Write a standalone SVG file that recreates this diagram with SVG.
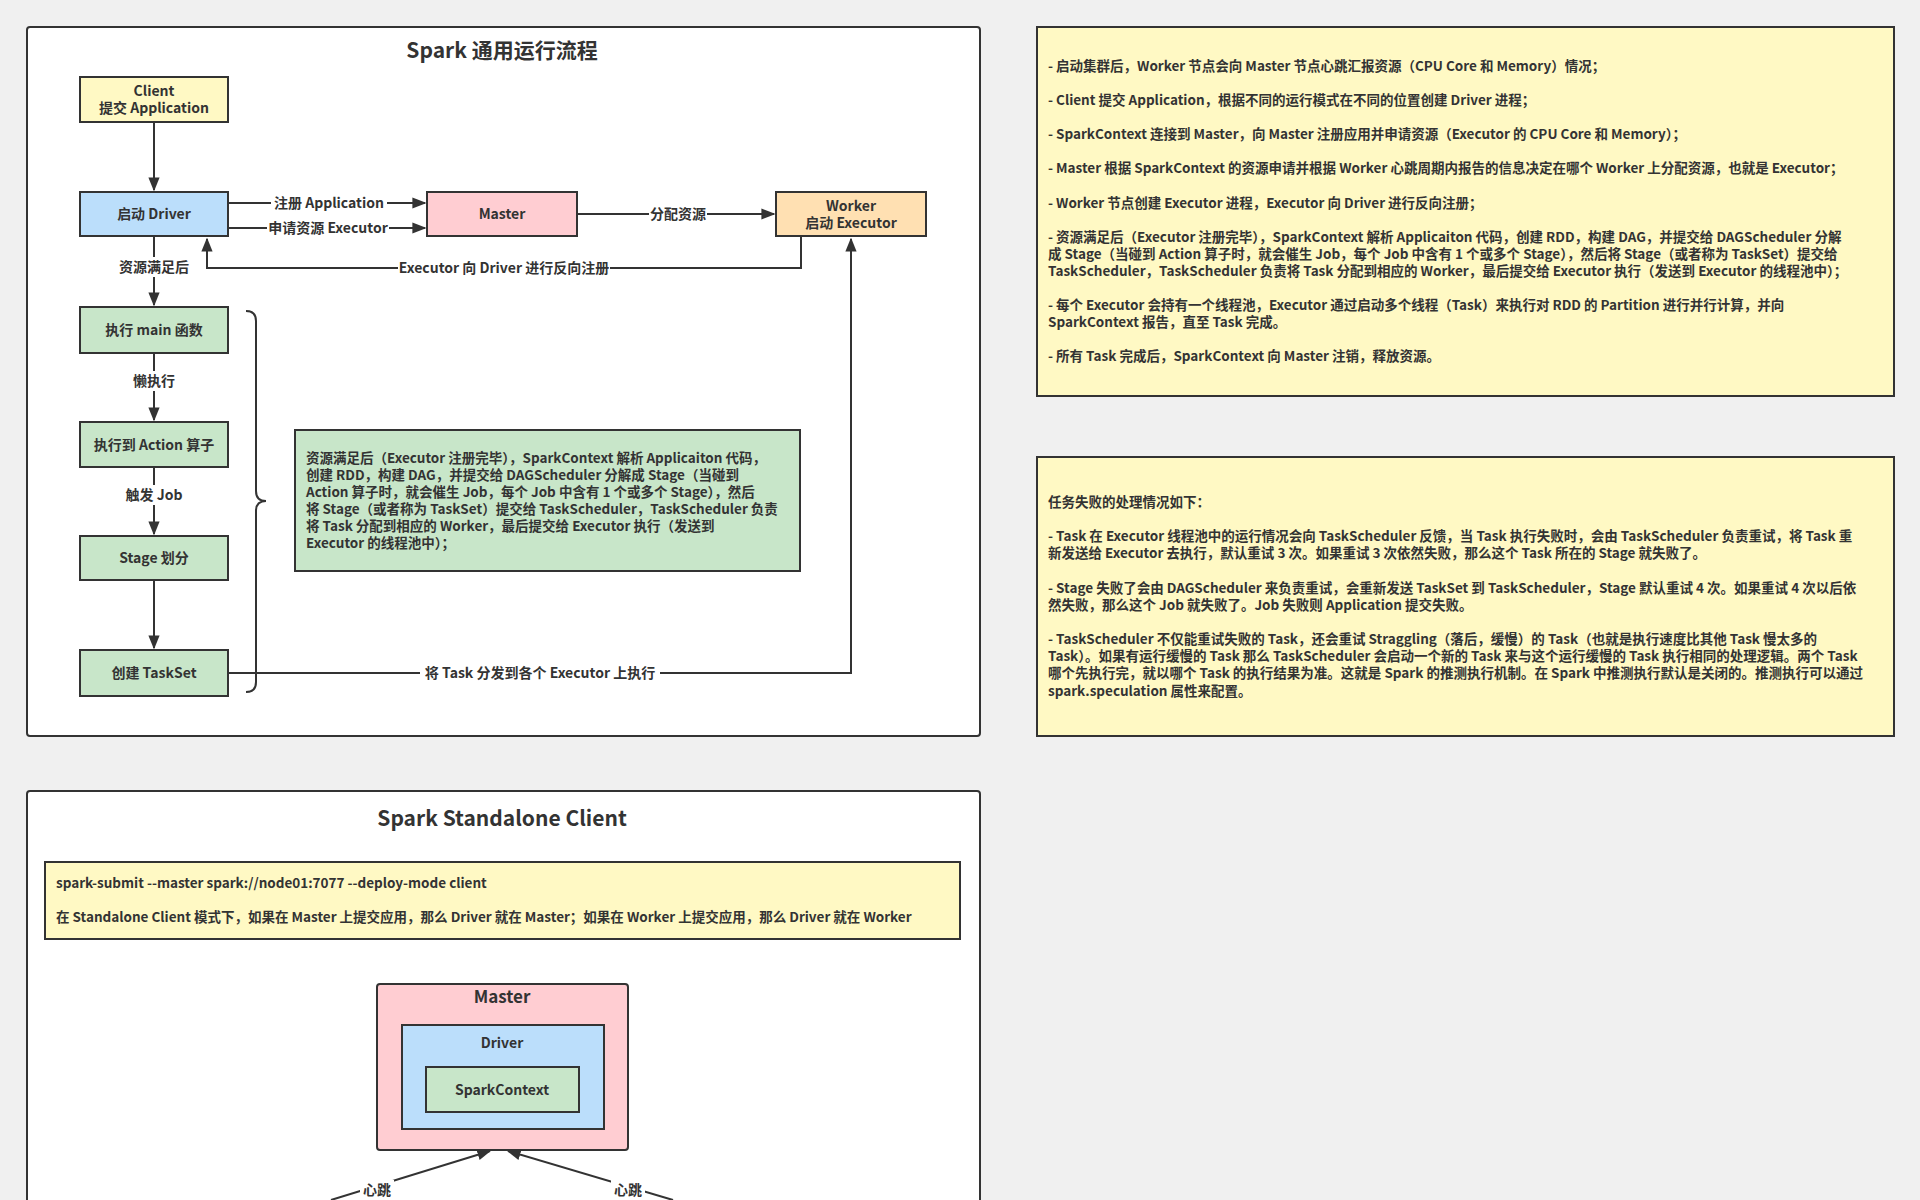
<svg xmlns="http://www.w3.org/2000/svg" width="1920" height="1200" viewBox="0 0 1920 1200">
<defs>
<style>
text{font-family:"Noto Sans CJK SC","Noto Sans",sans-serif;font-weight:bold;fill:#333;font-size:14px}
.c{text-anchor:middle}
.t{font-size:21px}
.n{stroke:#333;stroke-width:2}
.y{fill:#fff9c4}.b{fill:#bbdefb}.p{fill:#ffcdd2}.o{fill:#ffe0b2}.g{fill:#c8e6c9}
.l{fill:none;stroke:#333;stroke-width:2}
.lb{font-size:14px}
.bg{fill:#f0f0f0}
.s{font-size:13.5px}
</style>
<marker id="a" viewBox="0 0 10 10" refX="9" refY="5" markerWidth="7" markerHeight="7" orient="auto"><path d="M0,1 L10,5 L0,9 z" fill="#333"/></marker>
</defs>
<rect width="1920" height="1200" fill="#f0f0f0"/>
<g id="panel1"><rect x="27" y="27" width="953" height="709" rx="3" fill="#fff" class="n"/><text class="c t" x="502" y="58">Spark 通用运行流程</text></g>
<g id="panel2"><rect x="27" y="791" width="953" height="430" rx="3" fill="#fff" class="n"/><text class="c t" x="502" y="826">Spark Standalone Client</text></g>
<g id="connectors">
<path class="l" d="M154,122 V190" marker-end="url(#a)"/>
<path class="l" d="M228,203 H425" marker-end="url(#a)"/>
<path class="l" d="M228,228 H425" marker-end="url(#a)"/>
<path class="l" d="M577,214 H774" marker-end="url(#a)"/>
<path class="l" d="M801,236 V268 H207 V239" marker-end="url(#a)"/>
<path class="l" d="M154,236 V305" marker-end="url(#a)"/>
<path class="l" d="M154,353 V420" marker-end="url(#a)"/>
<path class="l" d="M154,467 V534" marker-end="url(#a)"/>
<path class="l" d="M154,580 V648" marker-end="url(#a)"/>
<path class="l" d="M228,673 H851 V239" marker-end="url(#a)"/>
<path class="l" d="M246,311 Q256,311 256,321 V491 Q256,501 266,501 Q256,501 256,511 V682 Q256,692 246,692"/>
<path class="l" d="M331,1200 L490,1151" marker-end="url(#a)"/>
<path class="l" d="M673,1200 L508,1151" marker-end="url(#a)"/>
<g class="lbls">
<rect class="bg" x="0" y="0" width="0" height="0"/>
<rect fill="#fff" x="271" y="193" width="116" height="20"/><text class="c lb" x="329" y="208">注册 Application</text>
<rect fill="#fff" x="267" y="218" width="122" height="20"/><text class="c lb" x="328" y="233">申请资源 Executor</text>
<rect fill="#fff" x="649" y="204" width="58" height="20"/><text class="c lb" x="678" y="219">分配资源</text>
<rect fill="#fff" x="398" y="258" width="212" height="20"/><text class="c lb" x="504" y="273">Executor 向 Driver 进行反向注册</text>
<rect fill="#fff" x="117" y="257" width="74" height="20"/><text class="c lb" x="154" y="272">资源满足后</text>
<rect fill="#fff" x="130" y="371" width="48" height="20"/><text class="c lb" x="154" y="386">懒执行</text>
<rect fill="#fff" x="122" y="485" width="64" height="20"/><text class="c lb" x="154" y="500">触发 Job</text>
<rect fill="#fff" x="420" y="663" width="240" height="20"/><text class="c lb" x="540" y="678">将 Task 分发到各个 Executor 上执行</text>
<rect fill="#fff" x="360" y="1180" width="34" height="20"/><text class="c lb" x="377" y="1195">心跳</text>
<rect fill="#fff" x="611" y="1180" width="34" height="20"/><text class="c lb" x="628" y="1195">心跳</text>
</g>
</g>
<g id="client"><rect class="n y" x="80" y="77" width="148" height="45"/><text class="c" x="154" y="96">Client</text><text class="c" x="154" y="113">提交 Application</text></g>
<g id="driver"><rect class="n b" x="80" y="192" width="148" height="44"/><text class="c" x="154" y="219">启动 Driver</text></g>
<g id="master"><rect class="n p" x="427" y="192" width="150" height="44"/><text class="c" x="502" y="219">Master</text></g>
<g id="worker"><rect class="n o" x="776" y="192" width="150" height="44"/><text class="c" x="851" y="211">Worker</text><text class="c" x="851" y="228">启动 Executor</text></g>
<g id="main"><rect class="n g" x="80" y="307" width="148" height="46"/><text class="c" x="154" y="335">执行 main 函数</text></g>
<g id="action"><rect class="n g" x="80" y="422" width="148" height="45"/><text class="c" x="154" y="450">执行到 Action 算子</text></g>
<g id="stage"><rect class="n g" x="80" y="536" width="148" height="44"/><text class="c" x="154" y="563">Stage 划分</text></g>
<g id="taskset"><rect class="n g" x="80" y="650" width="148" height="46"/><text class="c" x="154" y="678">创建 TaskSet</text></g>
<g id="note1"><rect class="n g" x="295" y="430" width="505" height="141"/>
<text class="s" x="306" y="463">资源满足后（Executor 注册完毕），SparkContext 解析 Applicaiton 代码，</text>
<text class="s" x="306" y="480">创建 RDD，构建 DAG，并提交给 DAGScheduler 分解成 Stage（当碰到</text>
<text class="s" x="306" y="497">Action 算子时，就会催生 Job，每个 Job 中含有 1 个或多个 Stage），然后</text>
<text class="s" x="306" y="514">将 Stage（或者称为 TaskSet）提交给 TaskScheduler，TaskScheduler 负责</text>
<text class="s" x="306" y="531">将 Task 分配到相应的 Worker，最后提交给 Executor 执行（发送到</text>
<text class="s" x="306" y="548">Executor 的线程池中）；</text></g>
<g id="note2"><rect class="n y" x="1037" y="27" width="857" height="369"/>
<text class="s" x="1048" y="71">- 启动集群后，Worker 节点会向 Master 节点心跳汇报资源（CPU Core 和 Memory）情况；</text>
<text class="s" x="1048" y="105">- Client 提交 Application，根据不同的运行模式在不同的位置创建 Driver 进程；</text>
<text class="s" x="1048" y="139">- SparkContext 连接到 Master，向 Master 注册应用并申请资源（Executor 的 CPU Core 和 Memory）；</text>
<text class="s" x="1048" y="173">- Master 根据 SparkContext 的资源申请并根据 Worker 心跳周期内报告的信息决定在哪个 Worker 上分配资源，也就是 Executor；</text>
<text class="s" x="1048" y="208">- Worker 节点创建 Executor 进程，Executor 向 Driver 进行反向注册；</text>
<text class="s" x="1048" y="242">- 资源满足后（Executor 注册完毕），SparkContext 解析 Applicaiton 代码，创建 RDD，构建 DAG，并提交给 DAGScheduler 分解</text>
<text class="s" x="1048" y="259">成 Stage（当碰到 Action 算子时，就会催生 Job，每个 Job 中含有 1 个或多个 Stage），然后将 Stage（或者称为 TaskSet）提交给</text>
<text class="s" x="1048" y="276">TaskScheduler，TaskScheduler 负责将 Task 分配到相应的 Worker，最后提交给 Executor 执行（发送到 Executor 的线程池中）；</text>
<text class="s" x="1048" y="310">- 每个 Executor 会持有一个线程池，Executor 通过启动多个线程（Task）来执行对 RDD 的 Partition 进行并行计算，并向</text>
<text class="s" x="1048" y="327">SparkContext 报告，直至 Task 完成。</text>
<text class="s" x="1048" y="361">- 所有 Task 完成后，SparkContext 向 Master 注销，释放资源。</text></g>
<g id="note3"><rect class="n y" x="1037" y="457" width="857" height="279"/>
<text class="s" x="1048" y="507">任务失败的处理情况如下：</text>
<text class="s" x="1048" y="541">- Task 在 Executor 线程池中的运行情况会向 TaskScheduler 反馈，当 Task 执行失败时，会由 TaskScheduler 负责重试，将 Task 重</text>
<text class="s" x="1048" y="558">新发送给 Executor 去执行，默认重试 3 次。如果重试 3 次依然失败，那么这个 Task 所在的 Stage 就失败了。</text>
<text class="s" x="1048" y="593">- Stage 失败了会由 DAGScheduler 来负责重试，会重新发送 TaskSet 到 TaskScheduler，Stage 默认重试 4 次。如果重试 4 次以后依</text>
<text class="s" x="1048" y="610">然失败，那么这个 Job 就失败了。Job 失败则 Application 提交失败。</text>
<text class="s" x="1048" y="644">- TaskScheduler 不仅能重试失败的 Task，还会重试 Straggling（落后，缓慢）的 Task（也就是执行速度比其他 Task 慢太多的</text>
<text class="s" x="1048" y="661">Task）。如果有运行缓慢的 Task 那么 TaskScheduler 会启动一个新的 Task 来与这个运行缓慢的 Task 执行相同的处理逻辑。两个 Task</text>
<text class="s" x="1048" y="678">哪个先执行完，就以哪个 Task 的执行结果为准。这就是 Spark 的推测执行机制。在 Spark 中推测执行默认是关闭的。推测执行可以通过</text>
<text class="s" x="1048" y="696">spark.speculation 属性来配置。</text></g>
<g id="cmd"><rect class="n y" x="45" y="862" width="915" height="77"/>
<text class="s" x="56" y="888">spark-submit --master spark://node01:7077 --deploy-mode client</text>
<text class="s" x="56" y="922">在 Standalone Client 模式下，如果在 Master 上提交应用，那么 Driver 就在 Master；如果在 Worker 上提交应用，那么 Driver 就在 Worker</text></g>
<g id="masterBox"><rect class="n p" x="377" y="984" width="251" height="166" rx="3"/><text class="c" x="502" y="1003" style="font-size:17px">Master</text></g>
<g id="driverBox"><rect class="n b" x="402" y="1025" width="202" height="104"/><text class="c" x="502" y="1048">Driver</text></g>
<g id="sc"><rect class="n g" x="426" y="1067" width="153" height="45"/><text class="c" x="502" y="1095">SparkContext</text></g>
</svg>
